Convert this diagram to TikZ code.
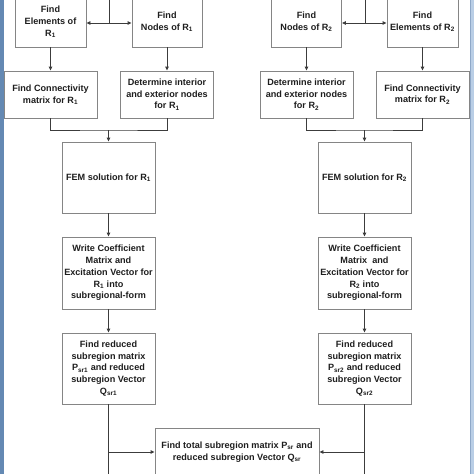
\documentclass[tikz,border=0pt]{standalone}
\usepackage{fontspec}
\setmainfont{Liberation Sans}
\usetikzlibrary{arrows.meta}
\definecolor{boxline}{HTML}{858585}
\definecolor{conn}{HTML}{3C3C3C}
\definecolor{txt}{HTML}{1E1E1E}
\definecolor{leftband}{HTML}{6489B3}
\definecolor{rightband}{HTML}{B9CEE6}
\definecolor{rightedge}{HTML}{8EA8C8}
\tikzset{
  stepbox/.style={draw=boxline, line width=0.9pt, fill=white, align=center,
    inner sep=0pt, text=txt,
    font=\fontsize{9.1pt}{11.7pt}\selectfont\bfseries},
  link/.style={draw=conn, line width=0.9pt},
  arr/.style={link, -{Triangle[length=4pt,width=3.6pt]}}
}
\newcommand{\subt}[1]{\textsubscript{#1}}
\begin{document}
\begin{tikzpicture}[x=1pt,y=-1pt]
\useasboundingbox (0,0) rectangle (474,474);
\clip (0,0) rectangle (474,474);
\fill[white] (0,0) rectangle (474,474);
% side bands
\fill[leftband] (0,0) rectangle (3.5,474);
\fill[rightband] (470,0) rectangle (474,474);
\draw[rightedge, line width=0.8pt] (470.4,0) -- (470.4,474);

% ---------- left branch ----------
\node[stepbox, minimum width=71pt, minimum height=50pt] (E1) at (50.5,22) {Find\\Elements of\\R\subt{1}};
\node[stepbox, minimum width=70pt, minimum height=50pt] (N1) at (167,22) {Find\\Nodes of R\subt{1}};
\node[stepbox, minimum width=93pt, minimum height=47pt] (C1) at (50.5,94.5) {Find Connectivity\\matrix for R\subt{1}};
\node[stepbox, minimum width=93pt, minimum height=47pt] (D1) at (167,94.5) {Determine interior\\and exterior nodes\\for R\subt{1}};
\node[stepbox, minimum width=93pt, minimum height=71pt] (F1) at (108.5,177.5) {FEM solution for R\subt{1}};
\node[stepbox, minimum width=93pt, minimum height=72pt] (W1) at (108.5,273) {Write Coefficient\\Matrix and\\Excitation Vector for\\R\subt{1} into\\subregional-form};
\node[stepbox, minimum width=93pt, minimum height=71pt] (S1) at (108.5,368.5) {Find reduced\\subregion matrix\\P\subt{sr1} and reduced\\subregion Vector\\Q\subt{sr1}};

% ---------- right branch ----------
\node[stepbox, minimum width=70pt, minimum height=50pt] (N2) at (306.5,22) {Find\\Nodes of R\subt{2}};
\node[stepbox, minimum width=71pt, minimum height=50pt] (E2) at (422.5,22) {Find\\Elements of R\subt{2}};
\node[stepbox, minimum width=93pt, minimum height=47pt] (D2) at (306.5,94.5) {Determine interior\\and exterior nodes\\for R\subt{2}};
\node[stepbox, minimum width=93pt, minimum height=47pt] (C2) at (422.5,94.5) {Find Connectivity\\matrix for R\subt{2}};
\node[stepbox, minimum width=93pt, minimum height=71pt] (F2) at (364.5,177.5) {FEM solution for R\subt{2}};
\node[stepbox, minimum width=93pt, minimum height=72pt] (W2) at (364.5,273) {Write Coefficient\\Matrix \ and\\Excitation Vector for\\R\subt{2} into\\subregional-form};
\node[stepbox, minimum width=93pt, minimum height=71pt] (S2) at (364.5,368.5) {Find reduced\\subregion matrix\\P\subt{sr2} and reduced\\subregion Vector\\Q\subt{sr2}};

% ---------- total ----------
\node[stepbox, minimum width=164pt, minimum height=48pt] (T) at (237,452) {Find total subregion matrix P\subt{sr} and\\reduced subregion Vector Q\subt{sr}};

% ---------- connectors left ----------
\coordinate (t1) at (109,-5);
\coordinate (j1) at (109,23);
\draw[link] (t1) -- (j1);
\draw[arr] (j1) -- (E1.east |- j1);
\draw[arr] (j1) -- (N1.west |- j1);
\draw[arr] (E1.south) -- (C1.north);
\draw[arr] (N1.south) -- (D1.north);
\coordinate (k1) at (108.5,130);
\draw[link] (C1.south) |- (k1) -| (D1.south);
\draw[arr] (k1) -- (F1.north);
\draw[arr] (F1.south) -- (W1.north);
\draw[arr] (W1.south) -- (S1.north);
\coordinate (b1) at (108.5,480);
\draw[link] (S1.south) -- (b1);
\draw[arr] (S1.south |- T.west) -- (T.west);

% ---------- connectors right ----------
\coordinate (t2) at (365,-5);
\coordinate (j2) at (365,23);
\draw[link] (t2) -- (j2);
\draw[arr] (j2) -- (N2.east |- j2);
\draw[arr] (j2) -- (E2.west |- j2);
\draw[arr] (N2.south) -- (D2.north);
\draw[arr] (E2.south) -- (C2.north);
\coordinate (k2) at (364.5,130);
\draw[link] (D2.south) |- (k2) -| (C2.south);
\draw[arr] (k2) -- (F2.north);
\draw[arr] (F2.south) -- (W2.north);
\draw[arr] (W2.south) -- (S2.north);
\coordinate (b2) at (364.5,480);
\draw[link] (S2.south) -- (b2);
\draw[arr] (S2.south |- T.east) -- (T.east);
\end{tikzpicture}
\end{document}
